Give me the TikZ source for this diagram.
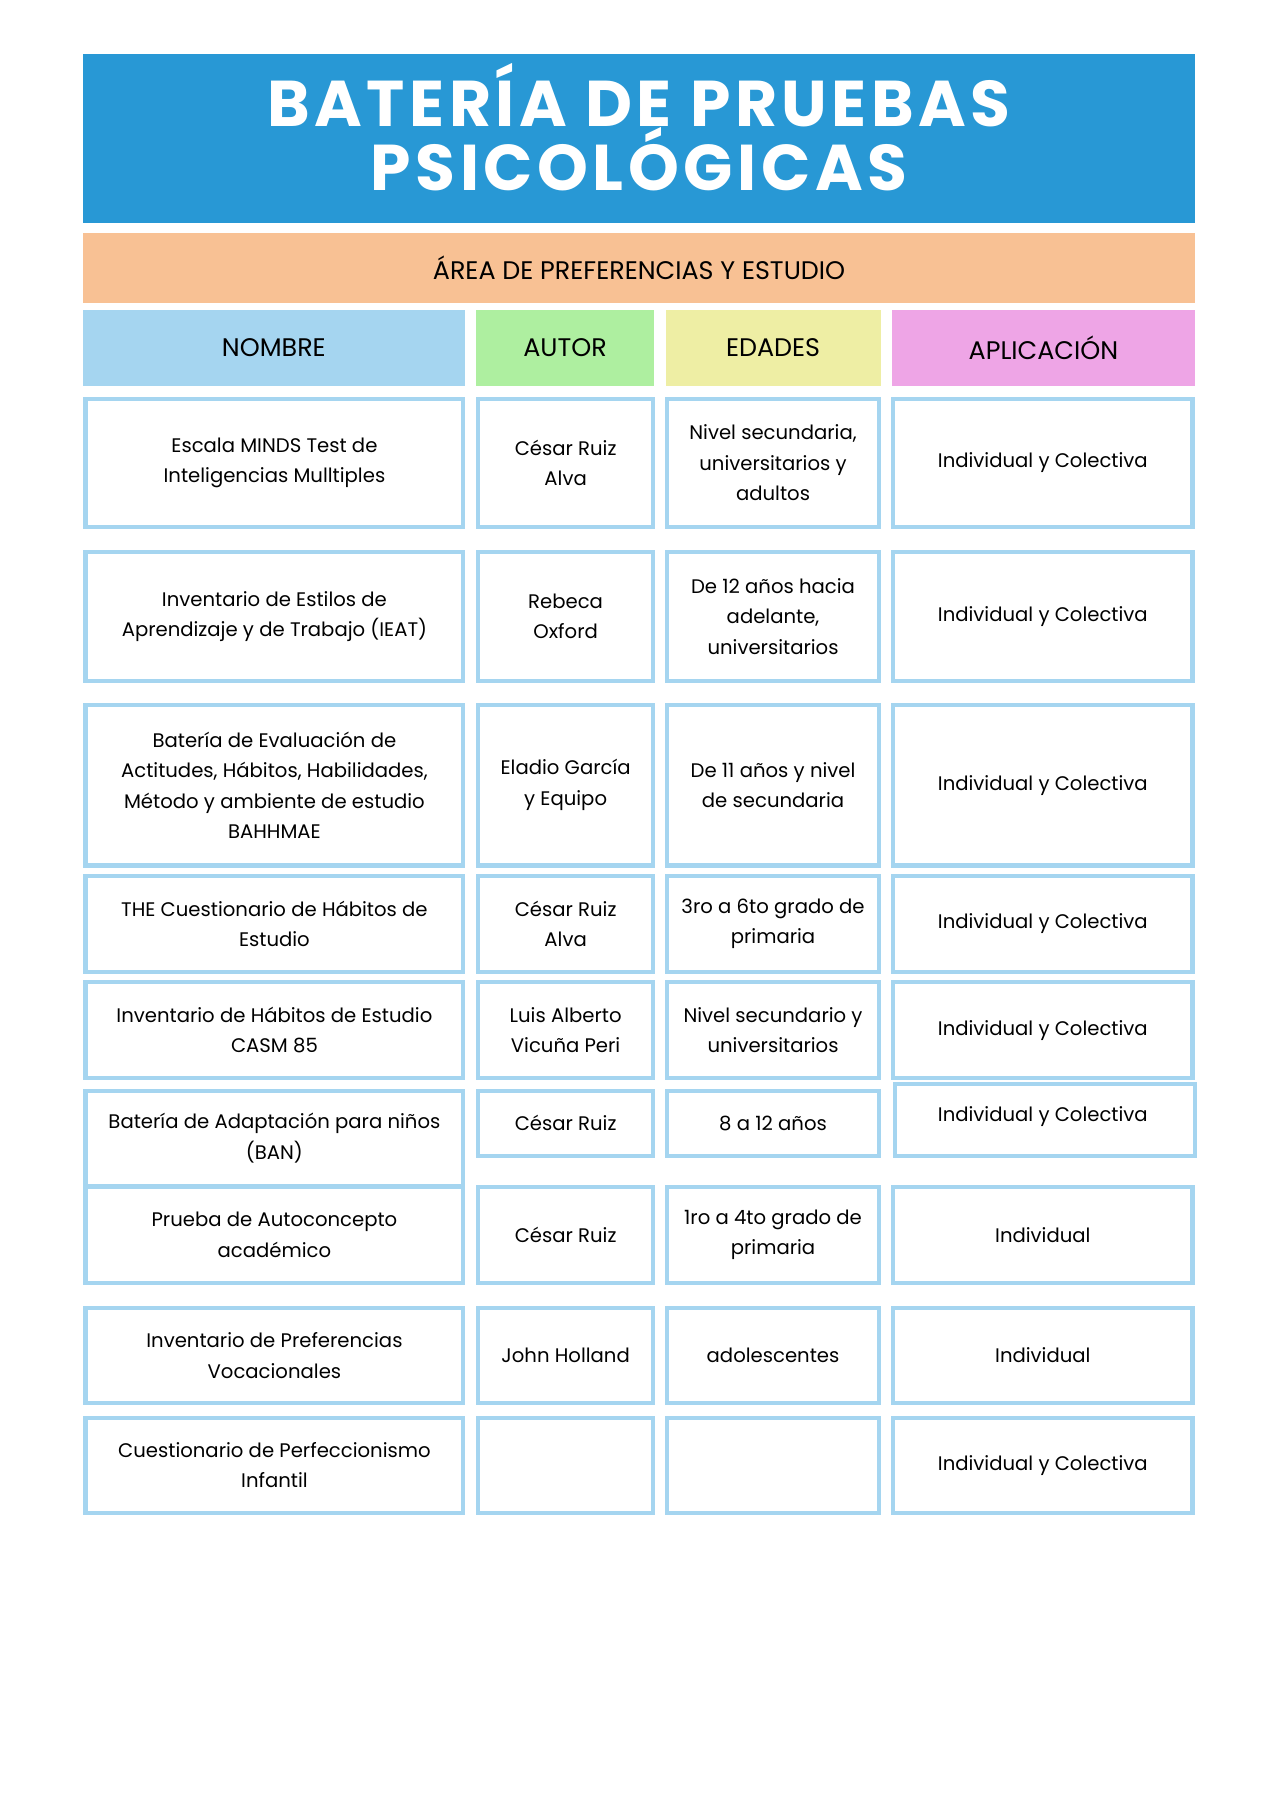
\documentclass[tikz,border=0pt]{standalone}
\usepackage{fontspec}
\setmainfont{Poppins}
\newfontfamily\titlefont[LetterSpace=7]{Poppins}
\definecolor{tblue}{HTML}{2898D5}
\definecolor{torange}{HTML}{F8C194}
\definecolor{lblue}{HTML}{A5D5F0}
\definecolor{lgreen}{HTML}{AEEFA0}
\definecolor{lyellow}{HTML}{EEEEA4}
\definecolor{lpink}{HTML}{EEA5E6}
\newcommand{\mycell}[6]{\node[cellbox,minimum width={(#4-#2)*1pt},minimum height={(#5-#3)*1pt}] (#1) at ({(#2+#4)/2*1pt},{-(#3+#5)/2*1pt}) {#6};}
\begin{document}
\begin{tikzpicture}[x=1pt,y=1pt,
 cellbox/.style={draw=lblue,line width=3.5pt,inner sep=0pt,align=center,font=\fontsize{17}{26.5}\selectfont},
 hdr/.style={inner sep=0pt,font=\fontsize{22}{24}\selectfont}]
\useasboundingbox (0,0) rectangle (1108,-1569);
\fill[white] (0,0) rectangle (1108,-1569);
\node[fill=tblue,minimum width=962pt,minimum height=146pt,inner sep=0pt] (titlebg) at (553,-120) {};
\node[inner sep=0pt,text=white,align=center,font=\fontsize{56}{52}\titlefont\bfseries] (title) at (553,-110) {BATERÍA DE PRUEBAS\\PSICOLÓGICAS};
\node[fill=torange,minimum width=962pt,minimum height=60pt,hdr] (area) at (553,-232) {ÁREA DE PREFERENCIAS Y ESTUDIO};
\node[fill=lblue,minimum width=330pt,minimum height=66pt,hdr] (h1) at (237,-301) {NOMBRE};
\node[fill=lgreen,minimum width=154pt,minimum height=66pt,hdr] (h2) at (489,-301) {AUTOR};
\node[fill=lyellow,minimum width=186pt,minimum height=66pt,hdr] (h3) at (669,-301) {EDADES};
\node[fill=lpink,minimum width=262pt,minimum height=66pt,hdr] (h4) at (903,-301) {APLICACIÓN};
% row 1
\mycell{a1}{74}{345}{401}{456}{Escala MINDS Test de\\Inteligencias Mulltiples}
\mycell{b1}{414}{345}{565}{456}{César Ruiz\\Alva}
\mycell{c1}{577}{345}{761}{456}{Nivel secundaria,\\universitarios y\\adultos}
\mycell{d1}{773}{345}{1032}{456}{Individual y Colectiva}
% row 2
\mycell{a2}{74}{478}{401}{589}{Inventario de Estilos de\\Aprendizaje y de Trabajo (IEAT)}
\mycell{b2}{414}{478}{565}{589}{Rebeca\\Oxford}
\mycell{c2}{577}{478}{761}{589}{De 12 años hacia\\adelante,\\universitarios}
\mycell{d2}{773}{478}{1032}{589}{Individual y Colectiva}
% row 3
\mycell{a3}{74}{610}{401}{749}{Batería de Evaluación de\\Actitudes, Hábitos, Habilidades,\\Método y ambiente de estudio\\BAHHMAE}
\mycell{b3}{414}{610}{565}{749}{Eladio García\\y Equipo}
\mycell{c3}{577}{610}{761}{749}{De 11 años y nivel\\de secundaria}
\mycell{d3}{773}{610}{1032}{749}{Individual y Colectiva}
% row 4
\mycell{a4}{74}{758}{401}{841}{THE Cuestionario de Hábitos de\\Estudio}
\mycell{b4}{414}{758}{565}{841}{César Ruiz\\Alva}
\mycell{c4}{577}{758}{761}{841}{3ro a 6to grado de\\primaria}
\mycell{d4}{773}{758}{1032}{841}{Individual y Colectiva}
% row 5
\mycell{a5}{74}{850}{401}{933}{Inventario de Hábitos de Estudio\\CASM 85}
\mycell{b5}{414}{850}{565}{933}{Luis Alberto\\Vicuña Peri}
\mycell{c5}{577}{850}{761}{933}{Nivel secundario y\\universitarios}
\mycell{d5}{773}{850}{1032}{933}{Individual y Colectiva}
% row 6
\mycell{a6}{74}{944}{401}{1026}{Batería de Adaptación para niños\\(BAN)}
\mycell{b6}{414}{944}{565}{1000}{César Ruiz}
\mycell{c6}{577}{944}{761}{1000}{8 a 12 años}
\node[cellbox,minimum width=259pt,minimum height=63pt,anchor=north west] (d6) at (773,-936) {};
\node[font=\fontsize{17}{26.5}\selectfont] (d6t) at (902.5,-966) {Individual y Colectiva};
% row 7
\mycell{a7}{74}{1027}{401}{1110}{Prueba de Autoconcepto\\académico}
\mycell{b7}{414}{1027}{565}{1110}{César Ruiz}
\mycell{c7}{577}{1027}{761}{1110}{1ro a 4to grado de\\primaria}
\mycell{d7}{773}{1027}{1032}{1110}{Individual}
% row 8
\mycell{a8}{74}{1132}{401}{1214}{Inventario de Preferencias\\Vocacionales}
\mycell{b8}{414}{1132}{565}{1214}{John Holland}
\mycell{c8}{577}{1132}{761}{1214}{adolescentes}
\mycell{d8}{773}{1132}{1032}{1214}{Individual}
% row 9
\mycell{a9}{74}{1227}{401}{1309}{Cuestionario de Perfeccionismo\\Infantil}
\mycell{b9}{414}{1227}{565}{1309}{}
\mycell{c9}{577}{1227}{761}{1309}{}
\mycell{d9}{773}{1227}{1032}{1309}{Individual y Colectiva}
\end{tikzpicture}
\end{document}
